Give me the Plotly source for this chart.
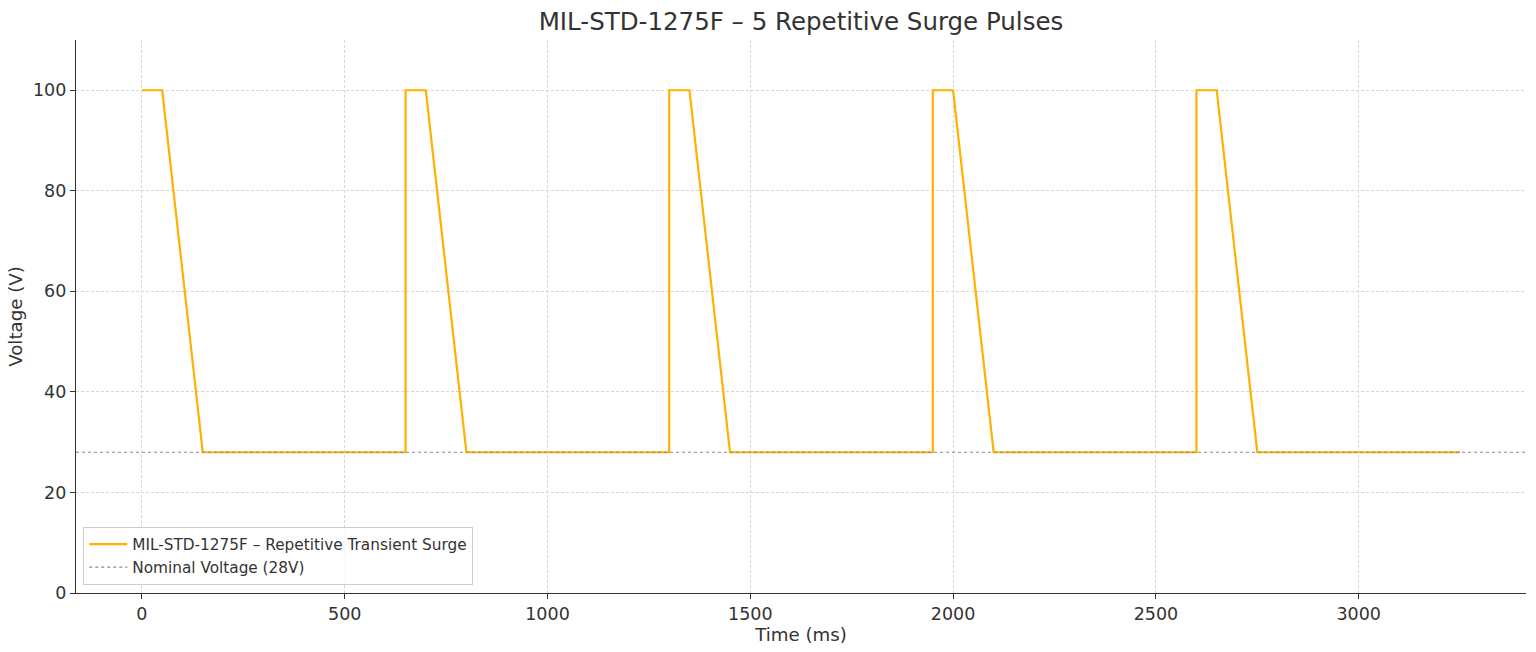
import plotly.graph_objects as go

# Data: repetitive surge pulse waveform (time in ms, voltage in V)
time_ms = [0, 50, 150, 650, 650, 700, 800, 1300, 1300, 1350, 1450, 1950, 1950, 2000, 2100,
           2600, 2600, 2650, 2750, 3250]
voltage_v = [100, 100, 28, 28, 100, 100, 28, 28, 100, 100, 28, 28, 100, 100, 28,
             28, 100, 100, 28, 28]
nominal_v = 28
x_range = [-162.5, 3412.5]
y_range = [0, 110]
x_ticks = [0, 500, 1000, 1500, 2000, 2500, 3000]
y_ticks = [0, 20, 40, 60, 80, 100]

FONT = "DejaVu Sans"
TXT = "#333333"
fig = go.Figure()
fig.add_trace(go.Scatter(
    x=time_ms, y=voltage_v, mode="lines",
    name="MIL-STD-1275F – Repetitive Transient Surge",
    line=dict(color="#FFB000", width=2.2),
))
fig.add_trace(go.Scatter(
    x=x_range, y=[nominal_v, nominal_v], mode="lines",
    name="Nominal Voltage (28V)",
    line=dict(color="#888888", width=1.2, dash="dot"),
))

axis_common = dict(
    showline=True, linecolor="#333333", linewidth=1.3,
    ticks="outside", ticklen=5, tickwidth=1.2, tickcolor="#333333",
    showgrid=True, gridcolor="#d6d6d6", griddash="3px,2px", gridwidth=1,
    zeroline=False, mirror=False,
    tickfont=dict(family=FONT, size=17.5, color=TXT),
)
fig.update_xaxes(range=x_range, tickvals=x_ticks, **axis_common,
                 title=dict(text="Time (ms)", font=dict(family=FONT, size=18.2, color=TXT), standoff=2))
fig.update_yaxes(range=y_range, tickvals=y_ticks, **axis_common,
                 title=dict(text="Voltage (V)", font=dict(family=FONT, size=18.2, color=TXT), standoff=5))

fig.update_layout(
    width=1536, height=652,
    margin=dict(l=76, r=10, t=40, b=59),
    paper_bgcolor="white", plot_bgcolor="white",
    title=dict(text="MIL-STD-1275F – 5 Repetitive Surge Pulses",
               font=dict(family=FONT, size=24.5, color=TXT),
               x=0.5, xref="paper", xanchor="center", y=0.967, yanchor="middle"),
    legend=dict(x=0.005, y=0.015, xanchor="left", yanchor="bottom",
                bgcolor="rgba(255,255,255,0.8)", bordercolor="#cccccc", borderwidth=1,
                font=dict(family=FONT, size=15.3, color=TXT), tracegroupgap=0,
                itemwidth=38),
    showlegend=True,
)

fig.write_html("out.html")
